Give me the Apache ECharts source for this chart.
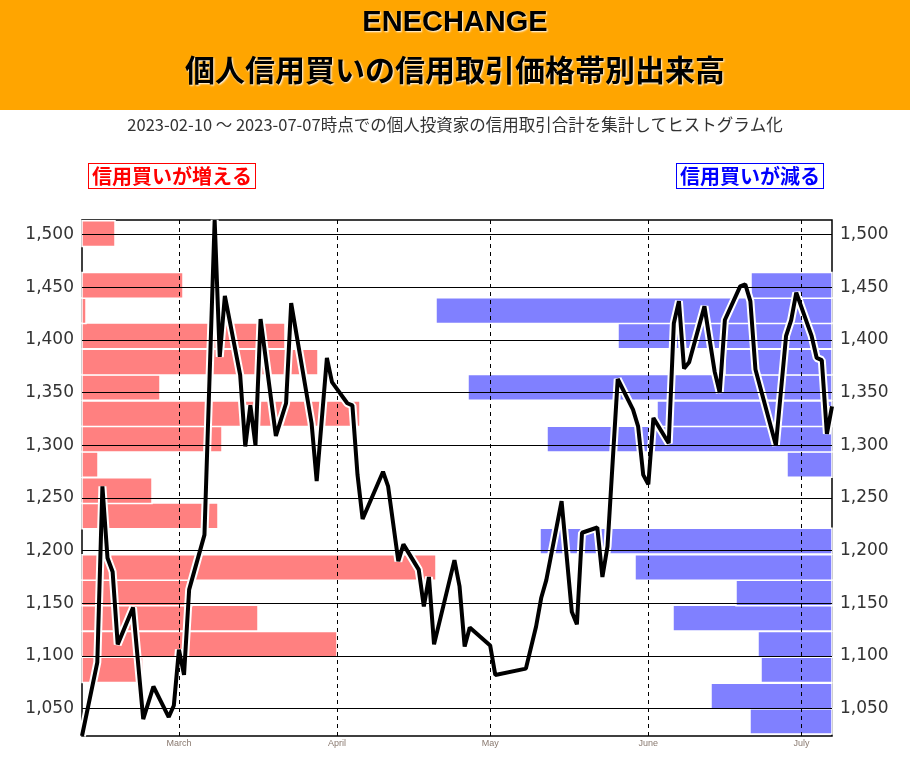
<!DOCTYPE html>
<html>
<head>
<meta charset="utf-8">
<script src="https://cdn.jsdelivr.net/npm/echarts@6/dist/echarts.min.js"></script>
<style>
  html, body { margin: 0; padding: 0; background: #fff; }
  #chart-container { width: 910px; height: 761px; }
</style>
</head>
<body>
<div id="chart-container"></div>
<script>
// price bins (centre of each band)
var binCenters = [1038, 1062, 1087, 1111, 1136, 1160, 1184, 1209, 1233, 1257,
                  1282, 1306, 1330, 1355, 1379, 1404, 1428, 1452, 1477, 1501];
// volume of margin buying increase / decrease per band
var buyUp = [0, 0, 61, 255, 176, 110, 354, 0, 136, 70,
             16, 140, 278, 78, 236, 203, 4, 101, 0, 33];
var buyDown = [82, 121, 71, 74, 159, 96, 197, 292, 0, 0,
               45, 285, 175, 364, 107, 214, 396, 81, 0, 0];
var binHeight = 24.4;

var priceDates = ['2023-02-10', '2023-02-13', '2023-02-14', '2023-02-15', '2023-02-16', '2023-02-17',
  '2023-02-20', '2023-02-22', '2023-02-24', '2023-02-27', '2023-02-28', '2023-03-01', '2023-03-02',
  '2023-03-03', '2023-03-06', '2023-03-08', '2023-03-09', '2023-03-10', '2023-03-13', '2023-03-14',
  '2023-03-15', '2023-03-16', '2023-03-17', '2023-03-20', '2023-03-22', '2023-03-23', '2023-03-27',
  '2023-03-28', '2023-03-30', '2023-03-31', '2023-04-03', '2023-04-04', '2023-04-05', '2023-04-06',
  '2023-04-10', '2023-04-11', '2023-04-13', '2023-04-14', '2023-04-17', '2023-04-18', '2023-04-19',
  '2023-04-20', '2023-04-24', '2023-04-25', '2023-04-26', '2023-04-27', '2023-05-01', '2023-05-02',
  '2023-05-08', '2023-05-10', '2023-05-11', '2023-05-12', '2023-05-15', '2023-05-17', '2023-05-18',
  '2023-05-19', '2023-05-22', '2023-05-23', '2023-05-24', '2023-05-26', '2023-05-29', '2023-05-30',
  '2023-05-31', '2023-06-01', '2023-06-02', '2023-06-05', '2023-06-06', '2023-06-07', '2023-06-08',
  '2023-06-09', '2023-06-12', '2023-06-14', '2023-06-15', '2023-06-16', '2023-06-19', '2023-06-20',
  '2023-06-21', '2023-06-22', '2023-06-26', '2023-06-28', '2023-06-29', '2023-06-30', '2023-07-03',
  '2023-07-04', '2023-07-05', '2023-07-06', '2023-07-07'];
var prices = [1024, 1094, 1261, 1193, 1180, 1111,
  1146, 1040, 1071, 1042, 1053, 1106, 1082,
  1163, 1215, 1514, 1384, 1442, 1367, 1299,
  1338, 1300, 1420, 1309, 1340, 1435, 1321,
  1266, 1383, 1360, 1340, 1338, 1272, 1230,
  1275, 1261, 1190, 1206, 1182, 1147, 1175,
  1111, 1191, 1166, 1109, 1127, 1110, 1082,
  1088, 1128, 1155, 1172, 1247, 1142, 1130,
  1217, 1222, 1175, 1204, 1363, 1334, 1318,
  1272, 1263, 1326, 1302, 1416, 1437, 1373,
  1379, 1432, 1370, 1350, 1419, 1451, 1453,
  1437, 1372, 1300, 1404, 1419, 1445, 1404,
  1383, 1381, 1311, 1337];

var priceTicks = [1050, 1100, 1150, 1200, 1250, 1300, 1350, 1400, 1450, 1500];
var monthStarts = ['2023-03-01', '2023-04-01', '2023-05-01', '2023-06-01', '2023-07-01'];
var monthNames = ['March', 'April', 'May', 'June', 'July'];

var myChart = echarts.init(document.getElementById('chart-container'));

var priceData = priceDates.map(function (d, i) { return [d, prices[i]]; });

function barRenderer(color) {
    return function (params, api) {
        var c = api.value(1);
        var p1 = api.coord([0, c + binHeight / 2]);
        var p2 = api.coord([api.value(0), c - binHeight / 2]);
        return {
            type: 'rect',
            shape: {
                x: Math.min(p1[0], p2[0]),
                y: p1[1],
                width: Math.abs(p2[0] - p1[0]),
                height: p2[1] - p1[1]
            },
            style: { fill: color, stroke: '#fff', lineWidth: 1.5 }
        };
    };
}

var hLines = priceTicks.map(function (v) {
    return { yAxis: v, label: { show: false } };
});
var vLines = monthStarts.map(function (d, i) {
    return {
        xAxis: d + 'T00:00:00',
        lineStyle: { type: [4, 4], width: 1 },
        label: { show: true, position: 'start', formatter: monthNames[i], fontSize: 9, color: '#8a7a70', distance: 3 }
    };
});

var yLabel = {
    fontSize: 17,
    color: '#333',
    fontFamily: 'DejaVu Sans',
    customValues: priceTicks,
    formatter: function (v) { return v.toLocaleString('en-US'); }
};

var titleStyle = { fill: '#000', fontWeight: 'bold', fontFamily: 'Liberation Sans, Noto Sans CJK JP', textShadowColor: '#fff', textShadowBlur: 2, textShadowOffsetX: 1, textShadowOffsetY: 1 };

var option = {
    animation: false,
    graphic: [
        { type: 'rect', left: 0, top: 0, shape: { width: 910, height: 110 }, style: { fill: '#FFA500' }, z: -1 },
        { type: 'text', left: 'center', top: 8, style: Object.assign({ text: 'ENECHANGE', fontSize: 29 }, titleStyle) },
        { type: 'text', left: 'center', top: 58, style: Object.assign({ text: '個人信用買いの信用取引価格帯別出来高', fontSize: 30 }, titleStyle) },
        { type: 'text', left: 'center', top: 116, style: { text: '2023-02-10 ～ 2023-07-07時点での個人投資家の信用取引合計を集計してヒストグラム化', fontSize: 16.5, fill: '#333', fontFamily: 'Noto Sans CJK JP' } },
        { type: 'text', left: 88, top: 163, style: { text: '信用買いが増える', fontSize: 20, fontWeight: 'bold', fill: '#f00', fontFamily: 'Noto Sans CJK JP', borderColor: '#f00', borderWidth: 1, padding: [2, 3], backgroundColor: '#fff' } },
        { type: 'text', right: 86, top: 163, style: { text: '信用買いが減る', fontSize: 20, fontWeight: 'bold', fill: '#00f', fontFamily: 'Noto Sans CJK JP', borderColor: '#00f', borderWidth: 1, padding: [2, 3], backgroundColor: '#fff' } }
    ],
    grid: { left: 82, right: 78, top: 220, bottom: 25, show: true, borderColor: '#000', borderWidth: 1.5 },
    xAxis: [
        {
            type: 'time',
            min: '2023-02-10T00:00:00',
            max: '2023-07-07T00:00:00',
            splitLine: { show: false },
            axisLine: { show: false },
            axisTick: { show: false },
            axisLabel: { show: false }
        },
        { type: 'value', min: 0, max: 750, show: false },
        { type: 'value', min: 0, max: 750, inverse: true, show: false }
    ],
    yAxis: [
        {
            type: 'value', min: 1024, max: 1514, position: 'left',
            splitLine: { show: false }, axisLine: { show: false }, axisTick: { show: false },
            axisLabel: yLabel
        },
        {
            type: 'value', min: 1024, max: 1514, position: 'right',
            splitLine: { show: false }, axisLine: { show: false }, axisTick: { show: false },
            axisLabel: yLabel
        }
    ],
    series: [
        {
            type: 'custom', xAxisIndex: 1, yAxisIndex: 0, z: 1,
            renderItem: barRenderer('#FF8080'),
            data: buyUp.map(function (v, i) { return [v, binCenters[i]]; }).filter(function (d) { return d[0] > 0; })
        },
        {
            type: 'custom', xAxisIndex: 2, yAxisIndex: 0, z: 1,
            renderItem: barRenderer('#8080FF'),
            data: buyDown.map(function (v, i) { return [v, binCenters[i]]; }).filter(function (d) { return d[0] > 0; })
        },
        {
            type: 'line', xAxisIndex: 0, yAxisIndex: 0, z: 3,
            data: priceData, showSymbol: false, silent: true,
            lineStyle: { color: '#fff', width: 8 },
            markLine: {
                silent: true, symbol: 'none',
                lineStyle: { color: '#000', type: 'solid', width: 1 },
                data: hLines.concat(vLines)
            }
        },
        {
            type: 'line', xAxisIndex: 0, yAxisIndex: 0, z: 4,
            data: priceData, showSymbol: false,
            lineStyle: { color: '#000', width: 4 }
        }
    ]
};

myChart.setOption(option);
</script>
</body>
</html>
